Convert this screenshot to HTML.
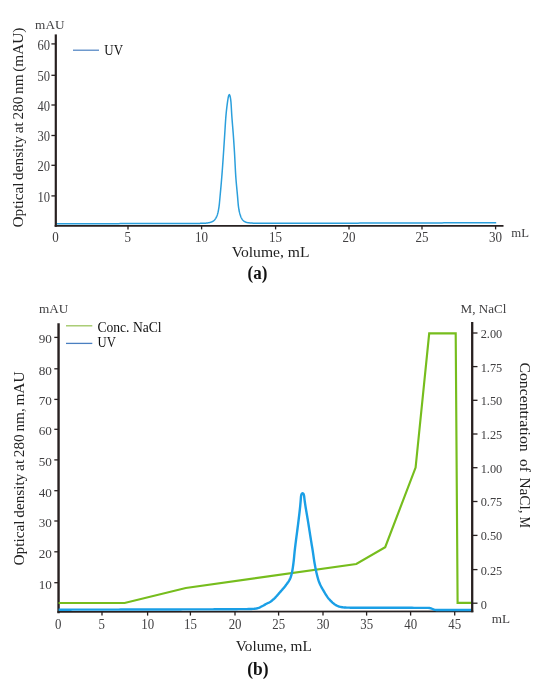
<!DOCTYPE html>
<html lang="en"><head><meta charset="utf-8"><title>Chromatograms</title>
<style>html,body{margin:0;padding:0;background:#fff}svg{display:block}text{font-family:"Liberation Serif",serif;fill:#414042}.t{font-size:14.2px}.lab{font-size:15.5px;fill:#222}.leg{fill:#111}.cap{font-weight:bold;font-size:18px;fill:#111}</style></head><body>
<svg width="550" height="685" viewBox="0 0 550 685">
<rect width="550" height="685" fill="#fff"/>
<path d="M56.50,223.80 L58.50,223.79 L60.50,223.79 L62.50,223.78 L64.50,223.78 L66.50,223.77 L68.50,223.76 L70.50,223.76 L72.50,223.75 L74.50,223.75 L76.50,223.74 L78.50,223.74 L80.50,223.73 L82.50,223.72 L84.50,223.72 L86.50,223.71 L88.50,223.71 L90.50,223.70 L92.50,223.70 L94.50,223.69 L96.50,223.69 L98.50,223.68 L100.50,223.68 L102.50,223.67 L104.50,223.66 L106.50,223.66 L108.50,223.65 L110.50,223.65 L112.50,223.64 L114.50,223.64 L116.50,223.63 L118.50,223.63 L120.50,223.62 L122.50,223.62 L124.50,223.61 L126.50,223.61 L128.50,223.60 L130.50,223.60 L132.50,223.59 L134.50,223.59 L136.50,223.58 L138.50,223.58 L140.50,223.57 L142.50,223.57 L144.50,223.56 L146.50,223.56 L148.50,223.55 L150.50,223.55 L152.50,223.54 L154.50,223.54 L156.50,223.54 L158.50,223.53 L160.50,223.53 L162.50,223.53 L164.50,223.53 L166.50,223.52 L168.50,223.52 L170.50,223.52 L172.50,223.51 L174.50,223.51 L176.50,223.51 L178.50,223.50 L180.50,223.50 L182.50,223.50 L184.50,223.49 L186.50,223.48 L188.50,223.48 L190.50,223.47 L192.50,223.46 L194.50,223.45 L196.50,223.44 L198.50,223.41 L200.00,223.38 L200.25,223.37 L200.50,223.36 L200.75,223.36 L201.00,223.35 L201.25,223.34 L201.50,223.33 L201.75,223.33 L202.00,223.32 L202.25,223.31 L202.50,223.30 L202.75,223.29 L203.00,223.28 L203.25,223.27 L203.50,223.26 L203.75,223.25 L204.00,223.24 L204.25,223.23 L204.50,223.22 L204.75,223.21 L205.00,223.20 L205.25,223.19 L205.50,223.17 L205.75,223.15 L206.00,223.13 L206.25,223.11 L206.50,223.08 L206.75,223.05 L207.00,223.02 L207.25,222.99 L207.50,222.95 L207.75,222.91 L208.00,222.87 L208.25,222.83 L208.50,222.79 L208.75,222.75 L209.00,222.70 L209.25,222.65 L209.50,222.60 L209.75,222.54 L210.00,222.47 L210.25,222.40 L210.50,222.33 L210.75,222.24 L211.00,222.16 L211.25,222.06 L211.50,221.96 L211.75,221.86 L212.00,221.75 L212.25,221.63 L212.50,221.50 L212.75,221.37 L213.00,221.23 L213.25,221.06 L213.50,220.87 L213.75,220.67 L214.00,220.44 L214.25,220.20 L214.50,219.93 L214.75,219.65 L215.00,219.35 L215.25,219.03 L215.50,218.69 L215.75,218.33 L216.00,217.92 L216.25,217.45 L216.50,216.93 L216.75,216.34 L217.00,215.69 L217.25,214.98 L217.50,214.21 L217.75,213.37 L218.00,212.43 L218.25,211.30 L218.50,209.97 L218.75,208.47 L219.00,206.81 L219.25,204.90 L219.50,202.50 L219.75,199.78 L220.00,196.99 L220.25,194.29 L220.50,191.59 L220.75,188.86 L221.00,186.07 L221.25,183.22 L221.50,180.29 L221.75,177.27 L222.00,174.13 L222.25,170.85 L222.50,167.43 L222.75,163.92 L223.00,160.33 L223.25,156.69 L223.50,153.03 L223.75,149.25 L224.00,145.39 L224.25,141.50 L224.50,137.63 L224.75,133.76 L225.00,129.70 L225.25,125.61 L225.50,121.69 L225.75,118.14 L226.00,115.15 L226.25,112.52 L226.50,110.10 L226.75,107.86 L227.00,105.79 L227.25,103.87 L227.50,102.08 L227.75,100.39 L228.00,98.75 L228.25,97.32 L228.50,96.30 L228.75,95.54 L229.00,94.92 L229.25,94.61 L229.50,94.75 L229.75,95.26 L230.00,95.98 L230.25,96.88 L230.50,98.27 L230.75,100.11 L231.00,102.46 L231.25,106.20 L231.50,110.69 L231.75,114.96 L232.00,118.46 L232.25,121.68 L232.50,124.75 L232.75,127.77 L233.00,130.84 L233.25,134.06 L233.50,137.51 L233.75,141.11 L234.00,144.85 L234.25,148.74 L234.50,152.82 L234.75,157.20 L235.00,162.19 L235.25,167.33 L235.50,172.14 L235.75,176.12 L236.00,179.47 L236.25,182.50 L236.50,185.29 L236.75,187.94 L237.00,190.53 L237.25,193.15 L237.50,195.90 L237.75,198.93 L238.00,202.04 L238.25,204.80 L238.50,206.83 L238.75,208.52 L239.00,210.00 L239.25,211.29 L239.50,212.41 L239.75,213.39 L240.00,214.28 L240.25,215.11 L240.50,215.87 L240.75,216.57 L241.00,217.20 L241.25,217.75 L241.50,218.23 L241.75,218.64 L242.00,219.02 L242.25,219.38 L242.50,219.72 L242.75,220.03 L243.00,220.32 L243.25,220.58 L243.50,220.82 L243.75,221.03 L244.00,221.22 L244.25,221.37 L244.50,221.51 L244.75,221.64 L245.00,221.76 L245.25,221.88 L245.50,221.99 L245.75,222.09 L246.00,222.19 L246.25,222.28 L246.50,222.36 L246.75,222.44 L247.00,222.51 L247.25,222.57 L247.50,222.62 L247.75,222.66 L248.00,222.70 L248.25,222.73 L248.50,222.76 L248.75,222.79 L249.00,222.82 L249.25,222.85 L249.50,222.87 L249.75,222.90 L250.00,222.92 L250.25,222.95 L250.50,222.97 L250.75,222.99 L251.00,223.01 L251.25,223.03 L251.50,223.05 L251.75,223.07 L252.00,223.08 L252.25,223.10 L252.50,223.11 L252.75,223.13 L253.00,223.14 L253.25,223.15 L253.50,223.16 L253.75,223.17 L254.00,223.18 L254.25,223.19 L254.50,223.19 L254.75,223.20 L255.00,223.20 L255.25,223.20 L255.50,223.21 L255.75,223.21 L256.00,223.21 L256.25,223.22 L256.50,223.22 L256.75,223.22 L257.00,223.23 L257.25,223.23 L257.50,223.23 L257.75,223.23 L258.00,223.24 L258.25,223.24 L258.50,223.24 L258.75,223.24 L259.00,223.25 L259.25,223.25 L259.50,223.25 L259.75,223.25 L260.00,223.26 L262.00,223.27 L264.00,223.28 L266.00,223.29 L268.00,223.30 L270.00,223.30 L272.00,223.30 L274.00,223.30 L276.00,223.30 L278.00,223.30 L280.00,223.30 L282.00,223.30 L284.00,223.29 L286.00,223.29 L288.00,223.29 L290.00,223.29 L292.00,223.29 L294.00,223.28 L296.00,223.28 L298.00,223.28 L300.00,223.27 L302.00,223.27 L304.00,223.27 L306.00,223.26 L308.00,223.26 L310.00,223.26 L312.00,223.25 L314.00,223.25 L316.00,223.24 L318.00,223.24 L320.00,223.23 L322.00,223.23 L324.00,223.22 L326.00,223.22 L328.00,223.21 L330.00,223.21 L332.00,223.20 L334.00,223.20 L336.00,223.19 L338.00,223.18 L340.00,223.18 L342.00,223.17 L344.00,223.17 L346.00,223.16 L348.00,223.16 L350.00,223.15 L352.00,223.14 L354.00,223.14 L356.00,223.13 L358.00,223.13 L360.00,223.12 L362.00,223.11 L364.00,223.11 L366.00,223.10 L368.00,223.09 L370.00,223.09 L372.00,223.08 L374.00,223.08 L376.00,223.07 L378.00,223.06 L380.00,223.06 L382.00,223.05 L384.00,223.05 L386.00,223.04 L388.00,223.03 L390.00,223.03 L392.00,223.02 L394.00,223.02 L396.00,223.01 L398.00,223.01 L400.00,223.00 L402.00,222.99 L404.00,222.99 L406.00,222.98 L408.00,222.98 L410.00,222.97 L412.00,222.97 L414.00,222.96 L416.00,222.96 L418.00,222.95 L420.00,222.94 L422.00,222.94 L424.00,222.93 L426.00,222.93 L428.00,222.92 L430.00,222.92 L432.00,222.91 L434.00,222.90 L436.00,222.90 L438.00,222.89 L440.00,222.88 L442.00,222.88 L444.00,222.87 L446.00,222.87 L448.00,222.86 L450.00,222.85 L452.00,222.85 L454.00,222.84 L456.00,222.83 L458.00,222.83 L460.00,222.82 L462.00,222.82 L464.00,222.81 L466.00,222.80 L468.00,222.80 L470.00,222.79 L472.00,222.78 L474.00,222.78 L476.00,222.77 L478.00,222.76 L480.00,222.76 L482.00,222.75 L484.00,222.74 L486.00,222.74 L488.00,222.73 L490.00,222.72 L492.00,222.71 L494.00,222.71 L496.00,222.70 L496.20,222.70" fill="none" stroke="#2b9fdc" stroke-width="1.5" stroke-linejoin="round"/>
<path d="M55.8,34.4 V226.8" fill="none" stroke="#272020" stroke-width="2.2"/>
<path d="M54.7,225.95 H503.5" fill="none" stroke="#272020" stroke-width="1.75"/>
<line x1="51.4" x2="55.5" y1="43.9" y2="43.9" stroke="#272020" stroke-width="1.3"/>
<text font-size="13.6" transform="translate(50.1,49.7) scale(0.925,1)" text-anchor="end">60</text>
<line x1="51.4" x2="55.5" y1="75.3" y2="75.3" stroke="#272020" stroke-width="1.3"/>
<text font-size="13.6" transform="translate(50.1,81.1) scale(0.925,1)" text-anchor="end">50</text>
<line x1="51.4" x2="55.5" y1="105.0" y2="105.0" stroke="#272020" stroke-width="1.3"/>
<text font-size="13.6" transform="translate(50.1,110.8) scale(0.925,1)" text-anchor="end">40</text>
<line x1="51.4" x2="55.5" y1="135.5" y2="135.5" stroke="#272020" stroke-width="1.3"/>
<text font-size="13.6" transform="translate(50.1,141.3) scale(0.925,1)" text-anchor="end">30</text>
<line x1="51.4" x2="55.5" y1="165.3" y2="165.3" stroke="#272020" stroke-width="1.3"/>
<text font-size="13.6" transform="translate(50.1,171.2) scale(0.925,1)" text-anchor="end">20</text>
<line x1="51.4" x2="55.5" y1="195.9" y2="195.9" stroke="#272020" stroke-width="1.3"/>
<text font-size="13.6" transform="translate(50.1,201.7) scale(0.925,1)" text-anchor="end">10</text>
<text font-size="14.3" transform="translate(55.6,241.9) scale(0.91,1)" text-anchor="middle">0</text>
<line x1="128.0" x2="128.0" y1="226" y2="229.4" stroke="#272020" stroke-width="1.3"/>
<text font-size="14.3" transform="translate(127.8,241.9) scale(0.91,1)" text-anchor="middle">5</text>
<line x1="201.6" x2="201.6" y1="226" y2="229.4" stroke="#272020" stroke-width="1.3"/>
<text font-size="14.3" transform="translate(201.6,241.9) scale(0.91,1)" text-anchor="middle">10</text>
<line x1="275.6" x2="275.6" y1="226" y2="229.4" stroke="#272020" stroke-width="1.3"/>
<text font-size="14.3" transform="translate(275.6,241.9) scale(0.91,1)" text-anchor="middle">15</text>
<line x1="349.0" x2="349.0" y1="226" y2="229.4" stroke="#272020" stroke-width="1.3"/>
<text font-size="14.3" transform="translate(349.0,241.9) scale(0.91,1)" text-anchor="middle">20</text>
<line x1="422.0" x2="422.0" y1="226" y2="229.4" stroke="#272020" stroke-width="1.3"/>
<text font-size="14.3" transform="translate(422.0,241.9) scale(0.91,1)" text-anchor="middle">25</text>
<line x1="495.6" x2="495.6" y1="226" y2="229.4" stroke="#272020" stroke-width="1.3"/>
<text font-size="14.3" transform="translate(495.6,241.9) scale(0.91,1)" text-anchor="middle">30</text>
<text class="t" x="35.1" y="29.45" textLength="29.4" lengthAdjust="spacingAndGlyphs" style="font-size:12.8px">mAU</text>
<text class="t" x="511.3" y="237.20" textLength="17.7" lengthAdjust="spacingAndGlyphs" style="font-size:12.8px">mL</text>
<text class="lab" transform="translate(22.9,227.5) rotate(-90)" word-spacing="-1.2" textLength="199.8" lengthAdjust="spacingAndGlyphs">Optical density at 280 nm (mAU)</text>
<text class="lab" x="231.7" y="257.30" textLength="77.8" lengthAdjust="spacingAndGlyphs">Volume, mL</text>
<text class="cap" x="247.5" y="279.20" textLength="19.8" lengthAdjust="spacingAndGlyphs">(a)</text>
<line x1="73" x2="99" y1="50.2" y2="50.2" stroke="#4a7fc0" stroke-width="1.2"/>
<text class="leg" x="104.3" y="54.80" textLength="18.7" lengthAdjust="spacingAndGlyphs" font-size="15.6">UV</text>
<path d="M58.55,323.3 V613.3" fill="none" stroke="#272020" stroke-width="2.4"/>
<path d="M57.4,611.85 L473.3,611.35" fill="none" stroke="#272020" stroke-width="1.9"/>
<path d="M58.6,603.0 L124.6,603.0 L185.8,588.0 L356.3,564.0 L385.2,547.2 L415.6,467.6 L429.2,333.3 L455.7,333.3 L457.6,602.8 L471.8,602.8" fill="none" stroke="#76bd1d" stroke-width="2.15" stroke-linejoin="miter"/>
<path d="M58.60,609.70 L60.60,609.70 L62.60,609.69 L64.60,609.69 L66.60,609.69 L68.60,609.68 L70.60,609.68 L72.60,609.67 L74.60,609.67 L76.60,609.67 L78.60,609.66 L80.60,609.66 L82.60,609.65 L84.60,609.65 L86.60,609.65 L88.60,609.64 L90.60,609.64 L92.60,609.63 L94.60,609.63 L96.60,609.62 L98.60,609.62 L100.60,609.62 L102.60,609.61 L104.60,609.61 L106.60,609.60 L108.60,609.60 L110.60,609.59 L112.60,609.59 L114.60,609.58 L116.60,609.58 L118.60,609.58 L120.60,609.57 L122.60,609.57 L124.60,609.56 L126.60,609.56 L128.60,609.55 L130.60,609.55 L132.60,609.54 L134.60,609.54 L136.60,609.53 L138.60,609.53 L140.60,609.52 L142.60,609.52 L144.60,609.51 L146.60,609.51 L148.60,609.50 L150.60,609.50 L152.60,609.49 L154.60,609.49 L156.60,609.48 L158.60,609.48 L160.60,609.47 L162.60,609.47 L164.60,609.47 L166.60,609.46 L168.60,609.46 L170.60,609.45 L172.60,609.45 L174.60,609.44 L176.60,609.44 L178.60,609.43 L180.60,609.43 L182.60,609.42 L184.60,609.42 L186.60,609.41 L188.60,609.41 L190.60,609.40 L192.60,609.40 L194.60,609.39 L196.60,609.39 L198.60,609.38 L200.60,609.37 L202.60,609.37 L204.60,609.36 L206.60,609.35 L208.60,609.35 L210.60,609.34 L212.60,609.33 L214.60,609.32 L216.60,609.31 L218.60,609.31 L220.60,609.30 L222.60,609.29 L224.60,609.28 L226.60,609.27 L228.60,609.25 L230.60,609.24 L232.60,609.23 L234.60,609.21 L236.60,609.19 L238.60,609.17 L240.60,609.15 L242.60,609.13 L244.60,609.11 L246.60,609.08 L248.60,609.04 L250.00,609.01 L250.50,608.99 L251.00,608.98 L251.50,608.96 L252.00,608.94 L252.50,608.92 L253.00,608.90 L253.50,608.87 L254.00,608.83 L254.50,608.77 L255.00,608.71 L255.50,608.63 L256.00,608.55 L256.50,608.45 L257.00,608.35 L257.50,608.24 L258.00,608.12 L258.50,607.97 L259.00,607.77 L259.50,607.55 L260.00,607.31 L260.50,607.05 L261.00,606.78 L261.50,606.52 L262.00,606.25 L262.50,606.00 L263.00,605.74 L263.50,605.46 L264.00,605.18 L264.50,604.89 L265.00,604.60 L265.50,604.32 L266.00,604.03 L266.50,603.76 L267.00,603.50 L267.50,603.25 L268.00,603.02 L268.50,602.79 L269.00,602.55 L269.50,602.29 L270.00,602.00 L270.50,601.68 L271.00,601.33 L271.50,600.96 L272.00,600.56 L272.50,600.14 L273.00,599.71 L273.50,599.27 L274.00,598.82 L274.50,598.34 L275.00,597.85 L275.50,597.33 L276.00,596.80 L276.50,596.25 L277.00,595.69 L277.50,595.13 L278.00,594.55 L278.50,593.97 L279.00,593.39 L279.50,592.81 L280.00,592.23 L280.50,591.66 L281.00,591.09 L281.50,590.52 L282.00,589.96 L282.50,589.39 L283.00,588.81 L283.50,588.23 L284.00,587.63 L284.50,587.03 L285.00,586.40 L285.50,585.76 L286.00,585.09 L286.50,584.40 L287.00,583.71 L287.50,583.02 L288.00,582.32 L288.50,581.58 L289.00,580.77 L289.50,579.88 L290.00,578.89 L290.10,578.67 L290.20,578.46 L290.30,578.23 L290.40,578.00 L290.50,577.76 L290.60,577.50 L290.70,577.23 L290.80,576.95 L290.90,576.65 L291.00,576.34 L291.10,576.01 L291.20,575.67 L291.30,575.31 L291.40,574.95 L291.50,574.56 L291.60,574.17 L291.70,573.76 L291.80,573.34 L291.90,572.90 L292.00,572.44 L292.10,571.95 L292.20,571.44 L292.30,570.89 L292.40,570.32 L292.50,569.73 L292.60,569.11 L292.70,568.47 L292.80,567.81 L292.90,567.13 L293.00,566.43 L293.10,565.71 L293.20,564.98 L293.30,564.23 L293.40,563.47 L293.50,562.70 L293.60,561.89 L293.70,561.01 L293.80,560.08 L293.90,559.10 L294.00,558.09 L294.10,557.05 L294.20,556.01 L294.30,554.95 L294.40,553.91 L294.50,552.88 L294.60,551.88 L294.70,550.92 L294.80,550.00 L294.90,549.12 L295.00,548.27 L295.10,547.44 L295.20,546.62 L295.30,545.81 L295.40,545.01 L295.50,544.20 L295.60,543.40 L295.70,542.60 L295.80,541.80 L295.90,541.01 L296.00,540.23 L296.10,539.45 L296.20,538.67 L296.30,537.90 L296.40,537.13 L296.50,536.36 L296.60,535.60 L296.70,534.84 L296.80,534.08 L296.90,533.32 L297.00,532.56 L297.10,531.80 L297.20,531.04 L297.30,530.28 L297.40,529.51 L297.50,528.75 L297.60,527.98 L297.70,527.20 L297.80,526.43 L297.90,525.64 L298.00,524.86 L298.10,524.06 L298.20,523.27 L298.30,522.46 L298.40,521.65 L298.50,520.83 L298.60,520.00 L298.70,519.17 L298.80,518.34 L298.90,517.52 L299.00,516.70 L299.10,515.87 L299.20,515.04 L299.30,514.20 L299.40,513.36 L299.50,512.50 L299.60,511.63 L299.70,510.75 L299.80,509.85 L299.90,508.92 L300.00,507.98 L300.10,507.01 L300.20,506.02 L300.30,505.00 L300.40,503.91 L300.50,502.75 L300.60,501.53 L300.70,500.30 L300.80,499.09 L300.90,497.87 L301.00,496.63 L301.10,495.89 L301.20,495.36 L301.30,494.95 L301.40,494.63 L301.50,494.38 L301.60,494.17 L301.70,493.98 L301.80,493.82 L301.90,493.69 L302.00,493.60 L302.10,493.52 L302.20,493.45 L302.30,493.39 L302.40,493.34 L302.50,493.31 L302.60,493.30 L302.70,493.31 L302.80,493.34 L302.90,493.39 L303.00,493.45 L303.10,493.52 L303.20,493.60 L303.30,493.69 L303.40,493.82 L303.50,493.98 L303.60,494.17 L303.70,494.38 L303.80,494.63 L303.90,494.97 L304.00,495.40 L304.10,495.91 L304.20,496.56 L304.30,497.54 L304.40,498.50 L304.50,499.31 L304.60,500.09 L304.70,500.85 L304.80,501.58 L304.90,502.29 L305.00,502.98 L305.10,503.66 L305.20,504.33 L305.30,505.00 L305.40,505.66 L305.50,506.31 L305.60,506.95 L305.70,507.58 L305.80,508.20 L305.90,508.81 L306.00,509.42 L306.10,510.02 L306.20,510.61 L306.30,511.20 L306.40,511.78 L306.50,512.37 L306.60,512.95 L306.70,513.53 L306.80,514.10 L306.90,514.68 L307.00,515.26 L307.10,515.84 L307.20,516.42 L307.30,517.00 L307.40,517.59 L307.50,518.19 L307.60,518.78 L307.70,519.39 L307.80,520.00 L307.90,520.62 L308.00,521.24 L308.10,521.86 L308.20,522.48 L308.30,523.11 L308.40,523.74 L308.50,524.37 L308.60,525.00 L308.70,525.63 L308.80,526.27 L308.90,526.91 L309.00,527.54 L309.10,528.18 L309.20,528.82 L309.30,529.46 L309.40,530.10 L309.50,530.75 L309.60,531.39 L309.70,532.03 L309.80,532.67 L309.90,533.31 L310.00,533.95 L310.10,534.59 L310.20,535.23 L310.30,535.87 L310.40,536.51 L310.50,537.14 L310.60,537.78 L310.70,538.41 L310.80,539.04 L310.90,539.67 L311.00,540.30 L311.10,540.93 L311.20,541.55 L311.30,542.17 L311.40,542.79 L311.50,543.40 L311.60,544.01 L311.70,544.61 L311.80,545.20 L311.90,545.79 L312.00,546.38 L312.10,546.97 L312.20,547.56 L312.30,548.16 L312.40,548.76 L312.50,549.38 L312.60,550.00 L312.70,550.64 L312.80,551.29 L312.90,551.96 L313.00,552.64 L313.10,553.32 L313.20,554.02 L313.30,554.72 L313.40,555.42 L313.50,556.12 L313.60,556.82 L313.70,557.52 L313.80,558.21 L313.90,558.89 L314.00,559.56 L314.10,560.22 L314.20,560.87 L314.30,561.50 L314.40,562.11 L314.50,562.70 L314.60,563.28 L314.70,563.85 L314.80,564.41 L314.90,564.97 L315.00,565.53 L315.10,566.07 L315.20,566.61 L315.30,567.15 L315.40,567.67 L315.50,568.19 L315.60,568.70 L315.70,569.21 L315.80,569.70 L315.90,570.19 L316.00,570.66 L316.10,571.13 L316.20,571.59 L316.30,572.03 L316.40,572.47 L316.50,572.90 L316.60,573.32 L316.70,573.74 L316.80,574.15 L316.90,574.56 L317.00,574.97 L317.10,575.37 L317.20,575.77 L317.30,576.16 L317.40,576.54 L317.50,576.92 L317.60,577.30 L317.70,577.67 L317.80,578.03 L317.90,578.39 L318.00,578.74 L318.10,579.08 L318.20,579.42 L318.30,579.74 L318.40,580.06 L318.50,580.38 L318.60,580.68 L318.70,580.97 L318.80,581.26 L318.90,581.53 L319.00,581.80 L319.10,582.06 L319.20,582.31 L319.30,582.56 L319.40,582.81 L319.50,583.05 L319.60,583.29 L319.70,583.52 L319.80,583.75 L319.90,583.98 L320.00,584.20 L320.50,585.27 L321.00,586.27 L321.50,587.21 L322.00,588.11 L322.50,588.98 L323.00,589.84 L323.50,590.70 L324.00,591.56 L324.50,592.42 L325.00,593.26 L325.50,594.08 L326.00,594.88 L326.50,595.65 L327.00,596.39 L327.50,597.10 L328.00,597.77 L328.50,598.40 L329.00,599.00 L329.50,599.57 L330.00,600.13 L330.50,600.67 L331.00,601.18 L331.50,601.67 L332.00,602.14 L332.50,602.59 L333.00,603.02 L333.50,603.42 L334.00,603.81 L334.50,604.18 L335.00,604.53 L335.50,604.86 L336.00,605.17 L336.50,605.45 L337.00,605.70 L337.50,605.93 L338.00,606.14 L338.50,606.34 L339.00,606.52 L339.50,606.67 L340.00,606.80 L340.50,606.91 L341.00,607.01 L341.50,607.11 L342.00,607.20 L342.50,607.28 L343.00,607.35 L343.50,607.41 L344.00,607.46 L344.50,607.49 L345.00,607.52 L345.50,607.54 L346.00,607.56 L346.50,607.58 L347.00,607.60 L347.50,607.62 L348.00,607.63 L348.50,607.64 L349.00,607.66 L349.50,607.67 L350.00,607.68 L352.00,607.70 L354.00,607.71 L356.00,607.72 L358.00,607.73 L360.00,607.74 L362.00,607.75 L364.00,607.75 L366.00,607.76 L368.00,607.77 L370.00,607.77 L372.00,607.77 L374.00,607.78 L376.00,607.78 L378.00,607.78 L380.00,607.78 L382.00,607.78 L384.00,607.79 L386.00,607.79 L388.00,607.79 L390.00,607.79 L392.00,607.79 L394.00,607.79 L396.00,607.79 L398.00,607.79 L400.00,607.80 L402.00,607.80 L404.00,607.80 L406.00,607.81 L408.00,607.81 L410.00,607.81 L412.00,607.82 L414.00,607.83 L416.00,607.83 L418.00,607.84 L420.00,607.85 L422.00,607.86 L424.00,607.87 L426.00,607.89 L426.50,607.89 L427.00,607.89 L427.50,607.90 L428.00,607.90 L428.50,607.92 L429.00,607.96 L429.50,608.03 L430.00,608.11 L430.50,608.20 L431.00,608.34 L431.50,608.55 L432.00,608.78 L432.50,609.00 L433.00,609.22 L433.50,609.47 L434.00,609.67 L434.50,609.80 L435.00,609.86 L435.50,609.92 L436.00,609.96 L436.50,609.99 L437.00,610.00 L437.50,610.00 L438.00,610.00 L438.50,610.00 L439.00,610.00 L439.50,610.00 L440.00,610.00 L471.80,610.00" fill="none" stroke="#1a9fe6" stroke-width="2.4" stroke-linejoin="round"/>
<path d="M472.2,612.3 V322" fill="none" stroke="#272020" stroke-width="2.3"/>
<line x1="54.3" x2="58" y1="337.4" y2="337.4" stroke="#272020" stroke-width="1.3"/>
<text font-size="13.4" transform="translate(51.9,343.4) scale(0.985,1)" text-anchor="end">90</text>
<line x1="54.3" x2="58" y1="368.8" y2="368.8" stroke="#272020" stroke-width="1.3"/>
<text font-size="13.4" transform="translate(51.9,374.8) scale(0.985,1)" text-anchor="end">80</text>
<line x1="54.3" x2="58" y1="399.4" y2="399.4" stroke="#272020" stroke-width="1.3"/>
<text font-size="13.4" transform="translate(51.9,405.4) scale(0.985,1)" text-anchor="end">70</text>
<line x1="54.3" x2="58" y1="429.3" y2="429.3" stroke="#272020" stroke-width="1.3"/>
<text font-size="13.4" transform="translate(51.9,435.3) scale(0.985,1)" text-anchor="end">60</text>
<line x1="54.3" x2="58" y1="459.9" y2="459.9" stroke="#272020" stroke-width="1.3"/>
<text font-size="13.4" transform="translate(51.9,465.9) scale(0.985,1)" text-anchor="end">50</text>
<line x1="54.3" x2="58" y1="490.7" y2="490.7" stroke="#272020" stroke-width="1.3"/>
<text font-size="13.4" transform="translate(51.9,496.7) scale(0.985,1)" text-anchor="end">40</text>
<line x1="54.3" x2="58" y1="521.0" y2="521.0" stroke="#272020" stroke-width="1.3"/>
<text font-size="13.4" transform="translate(51.9,527.0) scale(0.985,1)" text-anchor="end">30</text>
<line x1="54.3" x2="58" y1="551.8" y2="551.8" stroke="#272020" stroke-width="1.3"/>
<text font-size="13.4" transform="translate(51.9,557.8) scale(0.985,1)" text-anchor="end">20</text>
<line x1="54.3" x2="58" y1="582.7" y2="582.7" stroke="#272020" stroke-width="1.3"/>
<text font-size="13.4" transform="translate(51.9,588.7) scale(0.985,1)" text-anchor="end">10</text>
<text font-size="14.3" transform="translate(58.2,628.9) scale(0.9,1)" text-anchor="middle">0</text>
<line x1="102.0" x2="102.0" y1="611.8" y2="615.6" stroke="#272020" stroke-width="1.3"/>
<text font-size="14.3" transform="translate(101.7,628.9) scale(0.9,1)" text-anchor="middle">5</text>
<line x1="147.6" x2="147.6" y1="611.8" y2="615.6" stroke="#272020" stroke-width="1.3"/>
<text font-size="14.3" transform="translate(147.7,628.9) scale(0.9,1)" text-anchor="middle">10</text>
<line x1="190.4" x2="190.4" y1="611.8" y2="615.6" stroke="#272020" stroke-width="1.3"/>
<text font-size="14.3" transform="translate(190.5,628.9) scale(0.9,1)" text-anchor="middle">15</text>
<line x1="235.0" x2="235.0" y1="611.8" y2="615.6" stroke="#272020" stroke-width="1.3"/>
<text font-size="14.3" transform="translate(235.1,628.9) scale(0.9,1)" text-anchor="middle">20</text>
<line x1="278.6" x2="278.6" y1="611.8" y2="615.6" stroke="#272020" stroke-width="1.3"/>
<text font-size="14.3" transform="translate(278.7,628.9) scale(0.9,1)" text-anchor="middle">25</text>
<line x1="323.0" x2="323.0" y1="611.8" y2="615.6" stroke="#272020" stroke-width="1.3"/>
<text font-size="14.3" transform="translate(323.1,628.9) scale(0.9,1)" text-anchor="middle">30</text>
<line x1="366.6" x2="366.6" y1="611.8" y2="615.6" stroke="#272020" stroke-width="1.3"/>
<text font-size="14.3" transform="translate(366.7,628.9) scale(0.9,1)" text-anchor="middle">35</text>
<line x1="410.6" x2="410.6" y1="611.8" y2="615.6" stroke="#272020" stroke-width="1.3"/>
<text font-size="14.3" transform="translate(410.7,628.9) scale(0.9,1)" text-anchor="middle">40</text>
<line x1="454.7" x2="454.7" y1="611.8" y2="615.6" stroke="#272020" stroke-width="1.3"/>
<text font-size="14.3" transform="translate(454.8,628.9) scale(0.9,1)" text-anchor="middle">45</text>
<line x1="473" x2="477.5" y1="603.2" y2="603.2" stroke="#272020" stroke-width="1.3"/>
<text font-size="12.9" transform="translate(480.7,608.8) scale(0.954,1)" text-anchor="start">0</text>
<line x1="473" x2="477.5" y1="569.6" y2="569.6" stroke="#272020" stroke-width="1.3"/>
<text font-size="12.9" transform="translate(480.7,574.5) scale(0.954,1)" text-anchor="start">0.25</text>
<line x1="473" x2="477.5" y1="535.4" y2="535.4" stroke="#272020" stroke-width="1.3"/>
<text font-size="12.9" transform="translate(480.7,540.3) scale(0.954,1)" text-anchor="start">0.50</text>
<line x1="473" x2="477.5" y1="501.5" y2="501.5" stroke="#272020" stroke-width="1.3"/>
<text font-size="12.9" transform="translate(480.7,506.4) scale(0.954,1)" text-anchor="start">0.75</text>
<line x1="473" x2="477.5" y1="467.7" y2="467.7" stroke="#272020" stroke-width="1.3"/>
<text font-size="12.9" transform="translate(480.7,472.6) scale(0.954,1)" text-anchor="start">1.00</text>
<line x1="473" x2="477.5" y1="434.0" y2="434.0" stroke="#272020" stroke-width="1.3"/>
<text font-size="12.9" transform="translate(480.7,438.9) scale(0.954,1)" text-anchor="start">1.25</text>
<line x1="473" x2="477.5" y1="400.3" y2="400.3" stroke="#272020" stroke-width="1.3"/>
<text font-size="12.9" transform="translate(480.7,405.2) scale(0.954,1)" text-anchor="start">1.50</text>
<line x1="473" x2="477.5" y1="366.6" y2="366.6" stroke="#272020" stroke-width="1.3"/>
<text font-size="12.9" transform="translate(480.7,371.5) scale(0.954,1)" text-anchor="start">1.75</text>
<line x1="473" x2="477.5" y1="333.0" y2="333.0" stroke="#272020" stroke-width="1.3"/>
<text font-size="12.9" transform="translate(480.7,337.9) scale(0.954,1)" text-anchor="start">2.00</text>
<text class="t" x="39.0" y="313.30" textLength="29.4" lengthAdjust="spacingAndGlyphs" style="font-size:12.8px">mAU</text>
<text class="t" x="460.5" y="312.50" textLength="45.8" lengthAdjust="spacingAndGlyphs" style="font-size:12.1px">M, NaCl</text>
<text class="t" x="491.7" y="623.00" textLength="18.3" lengthAdjust="spacingAndGlyphs" style="font-size:12.8px">mL</text>
<text class="lab" transform="translate(23.6,565.5) rotate(-90)" word-spacing="-1.2" textLength="194" lengthAdjust="spacingAndGlyphs">Optical density at 280 nm, mAU</text>
<text class="lab" transform="translate(519.9,362.4) rotate(90)" textLength="89.3" lengthAdjust="spacingAndGlyphs">Concentration</text>
<text class="lab" transform="translate(519.9,458.9) rotate(90)" textLength="12.9" lengthAdjust="spacingAndGlyphs">of</text>
<text class="lab" transform="translate(519.9,477.4) rotate(90)" textLength="36.1" lengthAdjust="spacingAndGlyphs">NaCl,</text>
<text class="lab" transform="translate(519.9,516.6) rotate(90)" textLength="11.5" lengthAdjust="spacingAndGlyphs">M</text>
<text class="lab" x="235.7" y="651.40" textLength="76.1" lengthAdjust="spacingAndGlyphs">Volume, mL</text>
<text class="cap" x="247.2" y="675.00" textLength="21.3" lengthAdjust="spacingAndGlyphs">(b)</text>
<line x1="66" x2="92.3" y1="325.8" y2="325.8" stroke="#9cc55f" stroke-width="1.3"/>
<line x1="66" x2="92.3" y1="343.4" y2="343.4" stroke="#4a7fc0" stroke-width="1.3"/>
<text class="leg" x="97.4" y="332.00" textLength="64.2" lengthAdjust="spacingAndGlyphs" font-size="15">Conc. NaCl</text>
<text class="leg" x="97.6" y="346.70" textLength="18.3" lengthAdjust="spacingAndGlyphs" font-size="15">UV</text>
</svg></body></html>
